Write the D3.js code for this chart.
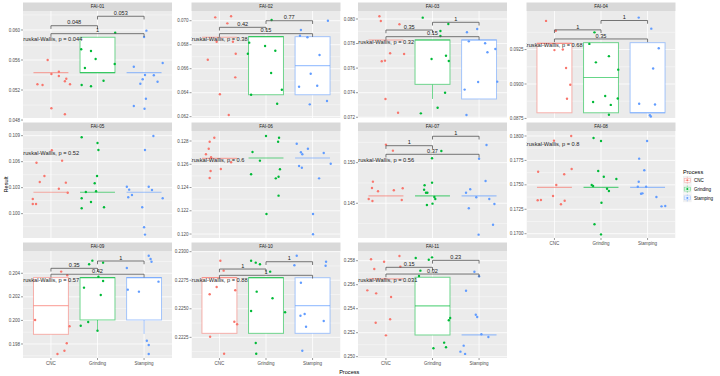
<!DOCTYPE html>
<html>
<head>
<meta charset="utf-8">
<script src="https://cdn.jsdelivr.net/npm/d3@7"></script>
<style>
  body { margin: 0; background: #fff; }
  text { font-family: "Liberation Sans", Arial, sans-serif; }
</style>
</head>
<body>
<div id="chart"></div>
<script>
// facets and groups
var facets = ["FAI-01", "FAI-02", "FAI-03", "FAI-04", "FAI-05", "FAI-06", "FAI-07", "FAI-08", "FAI-09", "FAI-10", "FAI-11"];
var processes = ["CNC", "Grinding", "Stamping"];

// y axis tick labels per facet
var tickLabels = [
    ["0.048", "0.052", "0.056", "0.060"],
    ["0.062", "0.064", "0.066", "0.068", "0.070"],
    ["0.072", "0.074", "0.076", "0.078", "0.080"],
    ["0.0875", "0.0900", "0.0925"],
    ["0.100", "0.103", "0.106", "0.109"],
    ["0.120", "0.122", "0.124", "0.126", "0.128"],
    ["0.145", "0.150"],
    ["0.1700", "0.1725", "0.1750", "0.1775", "0.1800"],
    ["0.198", "0.200", "0.202", "0.204"],
    ["0.2225", "0.2250", "0.2275", "0.2300"],
    ["0.250", "0.252", "0.254", "0.256", "0.258"]
];

// visible y range per facet [low, high]
var yRange = [
    [0.04827, 0.06253], [0.06189, 0.07081], [0.07194, 0.08065], [0.08753, 0.0953],
    [0.09719, 0.10954], [0.11966, 0.12886], [0.14072, 0.1539], [0.16956, 0.18051],
    [0.19681, 0.20589], [0.22069, 0.23006], [0.24989, 0.25881]
];

// measured results, one list per facet
var cncResult = [
    [0.0560, 0.05413, 0.05444, 0.05387, 0.05351, 0.05316, 0.05276, 0.05276, 0.05267, 0.04956, 0.04876],
    [0.07028, 0.07037, 0.06978, 0.06825, 0.06825, 0.06725, 0.06675, 0.06528, 0.06387, 0.06214],
    [0.08022, 0.07984, 0.07957, 0.07721, 0.07715, 0.07656, 0.07661, 0.07349, 0.07237],
    [0.09458, 0.09387, 0.09246, 0.0925, 0.09116, 0.08994, 0.08893, 0.08735, 0.08684],
    [0.10588, 0.10732, 0.10612, 0.10435, 0.10366, 0.10358, 0.10288, 0.10242, 0.1017, 0.10112, 0.10112],
    [0.12828, 0.12794, 0.12734, 0.12686, 0.1266, 0.12559, 0.12542, 0.12482, 0.12617],
    [0.15222, 0.15148, 0.14766, 0.14688, 0.14648, 0.1466, 0.14685, 0.14553, 0.14528, 0.1454],
    [0.18, 0.17952, 0.17662, 0.17634, 0.17608, 0.17498, 0.17386, 0.17342, 0.17345, 0.17337, 0.17301],
    [0.20414, 0.20383, 0.20004, 0.1995, 0.19806, 0.19743, 0.19715],
    [0.22921, 0.22834, 0.22691, 0.22627, 0.22662, 0.22387, 0.22364, 0.22255, 0.22106],
    [0.25812, 0.25792, 0.25839, 0.25731, 0.2575, 0.25553, 0.25528, 0.25498, 0.25312, 0.25283, 0.25178]
];
var grindingResult = [
    [0.05964, 0.05743, 0.0572, 0.05613, 0.05493, 0.05547, 0.05324, 0.05267, 0.0525],
    [0.07006, 0.06817, 0.06789, 0.0675, 0.06725, 0.06564, 0.06425, 0.06383, 0.06308],
    [0.08011, 0.07959, 0.07902, 0.07862, 0.07674, 0.07701, 0.07658, 0.074, 0.07278, 0.07232],
    [0.09375, 0.09291, 0.09202, 0.09157, 0.09104, 0.08913, 0.08895, 0.08869, 0.08848, 0.08777],
    [0.10882, 0.10816, 0.10735, 0.10435, 0.10351, 0.10258, 0.1025, 0.10178, 0.10135, 0.10062, 0.10074],
    [0.12843, 0.12828, 0.12794, 0.12705, 0.12631, 0.12557, 0.12514, 0.12493, 0.12479, 0.1233, 0.12172],
    [0.15144, 0.15054, 0.14754, 0.14722, 0.14667, 0.1463, 0.1463, 0.14577, 0.14553, 0.14479, 0.14495],
    [0.1798, 0.17949, 0.17642, 0.17583, 0.1756, 0.17498, 0.17488, 0.1746, 0.17437, 0.17317, 0.17096, 0.16993],
    [0.20507, 0.20476, 0.2049, 0.20371, 0.20335, 0.20278, 0.20216, 0.19955, 0.19987, 0.19913],
    [0.22921, 0.22904, 0.2289, 0.22825, 0.2265, 0.22592, 0.22481, 0.22469, 0.222, 0.22106],
    [0.25823, 0.25808, 0.25828, 0.25717, 0.25673, 0.25323, 0.25304, 0.25117, 0.25079, 0.2507]
];
var stampingResult = [
    [0.05991, 0.05907, 0.05511, 0.0556, 0.05396, 0.054, 0.05343, 0.05284, 0.05311, 0.05084, 0.04987, 0.04951],
    [0.07, 0.06923, 0.06875, 0.06862, 0.06714, 0.06558, 0.0645, 0.06458, 0.06303, 0.06331],
    [0.07919, 0.07892, 0.07818, 0.07802, 0.07756, 0.07729, 0.07487, 0.0749, 0.07425, 0.07219],
    [0.09482, 0.09402, 0.09259, 0.09112, 0.08857, 0.08851, 0.08773, 0.08764, 0.08657, 0.08601],
    [0.10897, 0.10735, 0.1031, 0.10277, 0.1031, 0.10273, 0.10216, 0.10189, 0.10178, 0.10074, 0.09843, 0.09758],
    [0.12777, 0.12734, 0.12703, 0.12686, 0.12697, 0.12605, 0.12585, 0.1257, 0.12479, 0.12172, 0.11998],
    [0.15218, 0.15049, 0.14775, 0.14672, 0.1463, 0.14574, 0.14553, 0.14491, 0.14438, 0.14236, 0.14113],
    [0.17949, 0.17768, 0.17649, 0.17532, 0.17481, 0.17481, 0.17409, 0.17413, 0.17375, 0.1728, 0.17283],
    [0.20549, 0.20521, 0.20498, 0.20445, 0.20329, 0.20261, 0.20244, 0.19828, 0.19791, 0.19715],
    [0.22965, 0.22881, 0.22912, 0.22877, 0.22728, 0.22439, 0.22454, 0.22393, 0.22343, 0.22133],
    [0.25708, 0.2567, 0.2555, 0.2535, 0.25331, 0.25187, 0.25164, 0.25092, 0.25042, 0.25023]
];

// horizontal jitter of each point (in category units), same order as above
var cncJitter = [
    [-0.07, 0.01, 0.17, 0.17, 0.33, 0.30, 0.41, -0.29, -0.18, 0.01, 0.30],
    [-0.09, 0.25, 0.17, -0.06, 0.29, 0.35, -0.25, 0.34, 0.01, 0.20],
    [-0.14, -0.11, 0.29, 0.09, 0.39, -0.09, -0.02, -0.01, 0.26],
    [-0.18, 0.03, 0, 0.18, 0.25, 0.34, 0.27, 0.02, 0.21],
    [-0.31, 0.02, 0.24, -0.14, -0.24, 0.32, 0.17, 0.36, -0.39, -0.39, -0.32],
    [-0.11, -0.21, -0.23, -0.29, -0.18, 0.03, -0.19, -0.21, 0.25],
    [0, 0.15, -0.28, -0.3, -0.17, 0.17, 0.36, -0.37, -0.29, 0.34],
    [0.36, -0.01, 0.37, -0.35, 0.21, 0.04, -0.03, -0.36, -0.29, 0.22, 0.14],
    [0.22, 0.35, -0.34, 0.4, 0.34, 0.29, 0.14],
    [0.02, 0.09, -0.06, -0.21, 0.34, 0.32, 0.38, -0.2, 0.1],
    [-0.32, -0.04, 0.29, -0.25, 0.31, -0.4, -0.21, 0.11, 0.09, -0.22, 0]
];
var grindingJitter = [
    [0.38, -0.35, -0.14, -0.04, -0.27, 0.37, 0.13, -0.34, -0.14],
    [0.12, -0.36, -0.02, 0.20, -0.39, 0.11, 0.34, -0.32, 0.24],
    [-0.21, 0.34, 0.17, 0.17, -0.02, 0.29, 0.35, 0.27, 0.11, -0.25],
    [-0.14, -0.25, 0.17, -0.11, 0.37, 0.09, 0.36, -0.17, 0.21, 0.17],
    [-0.34, 0, 0.02, -0.01, -0.06, -0.03, -0.25, -0.34, -0.14, -0.34, 0.14],
    [0, 0.28, 0.26, -0.29, -0.13, 0.3, -0.32, 0.27, 0.21, 0.27, 0.01],
    [0.19, -0.01, -0.01, -0.17, -0.18, -0.14, -0.11, 0.04, 0.06, -0.12, 0],
    [-0.16, 0, -0.06, 0.06, 0.33, -0.2, -0.17, 0.13, 0.17, 0.01, -0.14, 0],
    [-0.11, -0.18, 0.12, 0.02, 0.12, -0.29, 0.07, -0.36, -0.2, 0],
    [-0.32, -0.22, -0.13, 0.09, -0.2, 0.14, -0.32, 0.41, -0.22, -0.21],
    [-0.36, -0.08, -0.01, -0.26, -0.29, 0.38, 0.35, 0.25, 0.29, 0.02]
];
var stampingJitter = [
    [0.05, 0, -0.22, 0.40, 0.21, 0.02, -0.03, -0.08, 0.29, 0.04, -0.22, 0.01],
    [0.33, -0.25, -0.27, -0.11, 0.15, -0.04, -0.29, 0.10, -0.06, 0.31],
    [-0.04, -0.26, -0.22, 0.13, 0.35, 0.18, -0.02, 0.39, -0.31, -0.27],
    [-0.19, 0.08, 0.24, 0.12, -0.18, 0.16, 0.05, 0.07, -0.24, -0.17],
    [0.2, 0.02, -0.37, -0.32, 0.1, 0.17, -0.26, -0.34, 0.40, -0.04, 0, 0.02],
    [-0.34, -0.1, -0.25, -0.22, 0.24, 0.39, -0.29, -0.23, 0.14, 0.01, 0.01],
    [0.16, 0, 0.14, -0.19, -0.28, -0.06, 0.22, 0.33, -0.22, 0.30, -0.01],
    [-0.01, -0.18, -0.07, -0.19, -0.21, -0.03, -0.14, -0.11, 0.19, 0.3, 0.38],
    [0.1, 0.14, 0.16, -0.37, 0.31, -0.35, -0.11, 0.06, 0.1, 0.1],
    [-0.34, -0.39, 0.29, 0.28, -0.25, -0.26, -0.17, 0.24, -0.14, -0.22],
    [-0.1, 0, -0.28, -0.07, -0.04, 0.05, 0.2, -0.33, -0.4, -0.3]
];

// boxplot stats per facet: [CNC, Grinding, Stamping]
var boxLower = [
    [0.05431, 0.05431, 0.05431], [0.06862, 0.06383, 0.06383], [0.07829, 0.07468, 0.07349],
    [0.08791, 0.08791, 0.08791], [0.10247, 0.10247, 0.10247], [0.12651, 0.12654, 0.12654],
    [0.1459, 0.1459, 0.1459], [0.17475, 0.17475, 0.17475], [0.19882, 0.20004, 0.20004],
    [0.22285, 0.22285, 0.22285], [0.25648, 0.25181, 0.25181]
];
var boxMiddle = [
    [0.05431, 0.05431, 0.05431], [0.06862, 0.06867, 0.06625], [0.07829, 0.07829, 0.07829],
    [0.09295, 0.09047, 0.08791], [0.10247, 0.10247, 0.10247], [0.12651, 0.12654, 0.12654],
    [0.1459, 0.1459, 0.1459], [0.17475, 0.17475, 0.17475], [0.20125, 0.20363, 0.20363],
    [0.22772, 0.22772, 0.22527], [0.25648, 0.25423, 0.25181]
];
var boxUpper = [
    [0.05431, 0.05903, 0.05431], [0.06862, 0.06867, 0.06867], [0.07829, 0.07829, 0.07829],
    [0.09295, 0.093, 0.093], [0.10247, 0.10247, 0.10247], [0.12651, 0.12654, 0.12654],
    [0.1459, 0.1459, 0.1459], [0.17475, 0.17475, 0.17475], [0.20363, 0.20363, 0.20363],
    [0.22772, 0.22772, 0.22772], [0.25648, 0.25662, 0.25181]
];
var whiskerLower = [
    [null, null, null], [null, null, null], [null, 0.07349, null], [null, null, null],
    [null, null, null], [null, null, null], [null, null, null], [null, null, null],
    [null, 0.19904, 0.19885], [null, null, null], [null, null, null]
];

// pairwise comparisons: CNC-Grinding, Grinding-Stamping, CNC-Stamping
var pairs = [[0, 1], [1, 2], [0, 2]];
var pairP = [
    ["0.048", "0.053", "1"], ["0.42", "0.77", "0.15"], ["0.35", "1", "0.15"], ["1", "1", "0.35"],
    null, null, ["1", "1", "0.37"], null,
    ["0.35", "1", "0.42"], ["1", "1", "1"], ["0.15", "0.23", "0.02"]
];
var pairY = [
    [0.06057, 0.06183, 0.05951], [0.06945, 0.0700, 0.06892], [0.0791, 0.07973, 0.07856], [0.09393, 0.09461, 0.09327],
    null, null, [0.15209, 0.15325, 0.15103], null,
    [0.20442, 0.20504, 0.20392], [0.22848, 0.22912, 0.22793], [0.25745, 0.25803, 0.25689]
];

// Kruskal-Wallis results
var kwP = ["0.044", "0.38", "0.32", "0.68", "0.52", "0.6", "0.56", "0.8", "0.57", "0.88", "0.031"];
var kwY = [0.0588, 0.06848, 0.0781, 0.09286, 0.10704, 0.12637, 0.15033, 0.17921, 0.20346, 0.22755, 0.25639];

var colors = ["#F8766D", "#00BA38", "#619CFF"];
var results = [cncResult, grindingResult, stampingResult];
var jitters = [cncJitter, grindingJitter, stampingJitter];

var width = 720, height = 376;
var colLeft = [23, 191.5, 358, 526.5];
var rowTop = [11, 131, 251];
var panelW = 149, panelH = 107, stripH = 8.5;

var svg = d3.select("#chart").append("svg")
    .attr("width", width)
    .attr("height", height);

var defs = svg.append("defs");

facets.forEach(function(name, i) {
    var col = i % 4, row = Math.floor(i / 4);
    var left = colLeft[col], top = rowTop[row];

    var x = d3.scalePoint().domain(processes).range([left, left + panelW]).padding(0.6);
    var step = x.step();
    var y = d3.scaleLinear().domain(yRange[i]).range([top + panelH, top]);

    var ticks = tickLabels[i].map(Number);
    var tickStep = ticks[1] - ticks[0];
    var minor = [];
    for (var k = -1; k < ticks.length; k++) {
        var m = ticks[0] + (k + 0.5) * tickStep;
        if (m > yRange[i][0] && m < yRange[i][1]) minor.push(m);
    }

    // strip
    svg.append("rect")
        .attr("x", left).attr("y", top - stripH)
        .attr("width", panelW).attr("height", stripH)
        .attr("fill", "#D9D9D9");
    svg.append("text")
        .attr("x", left + panelW / 2).attr("y", top - stripH / 2 + 1.6)
        .attr("text-anchor", "middle")
        .attr("font-size", 4.6)
        .attr("fill", "#1A1A1A")
        .text(name);

    defs.append("clipPath").attr("id", "clip" + i)
        .append("rect")
        .attr("x", left).attr("y", top)
        .attr("width", panelW).attr("height", panelH);

    var g = svg.append("g").attr("clip-path", "url(#clip" + i + ")");

    g.append("rect")
        .attr("x", left).attr("y", top)
        .attr("width", panelW).attr("height", panelH)
        .attr("fill", "#EBEBEB");

    // grid
    g.selectAll("line.minor")
        .data(minor)
        .enter().append("line")
        .attr("x1", left).attr("x2", left + panelW)
        .attr("y1", d => y(d)).attr("y2", d => y(d))
        .attr("stroke", "#fff").attr("stroke-width", 0.4);
    g.selectAll("line.major")
        .data(ticks)
        .enter().append("line")
        .attr("x1", left).attr("x2", left + panelW)
        .attr("y1", d => y(d)).attr("y2", d => y(d))
        .attr("stroke", "#fff").attr("stroke-width", 0.8);
    g.selectAll("line.vmajor")
        .data(processes)
        .enter().append("line")
        .attr("x1", d => x(d)).attr("x2", d => x(d))
        .attr("y1", top).attr("y2", top + panelH)
        .attr("stroke", "#fff").attr("stroke-width", 0.8);

    // boxes
    processes.forEach(function(p, j) {
        var cx = x(p), half = 0.375 * step;
        var lo = boxLower[i][j], mid = boxMiddle[i][j], hi = boxUpper[i][j];
        var wl = whiskerLower[i][j];
        if (wl !== null) {
            g.append("line")
                .attr("x1", cx).attr("x2", cx)
                .attr("y1", y(lo)).attr("y2", y(wl))
                .attr("stroke", colors[j]).attr("stroke-opacity", 0.55)
                .attr("stroke-width", 1);
        }
        g.append("rect")
            .attr("x", cx - half).attr("y", y(hi))
            .attr("width", 2 * half).attr("height", y(lo) - y(hi))
            .attr("fill", "#fff")
            .attr("stroke", colors[j]).attr("stroke-opacity", 0.55)
            .attr("stroke-width", 1);
        g.append("line")
            .attr("x1", cx - half).attr("x2", cx + half)
            .attr("y1", y(mid)).attr("y2", y(mid))
            .attr("stroke", colors[j]).attr("stroke-opacity", 0.6)
            .attr("stroke-width", 1.2);
    });

    // jittered points
    processes.forEach(function(p, j) {
        var pts = results[j][i].map((v, n) => ({ v: v, jx: jitters[j][i][n] }));
        g.selectAll(null)
            .data(pts)
            .enter().append("circle")
            .attr("cx", d => x(p) + d.jx * step)
            .attr("cy", d => y(d.v))
            .attr("r", 1.2)
            .attr("fill", colors[j]);
    });

    // comparison brackets
    if (pairY[i]) {
        pairs.forEach(function(pr, k) {
            var x1 = x(processes[pr[0]]), x2 = x(processes[pr[1]]);
            var yy = y(pairY[i][k]);
            var tip = 0.03 * panelH;
            g.append("path")
                .attr("d", "M" + x1 + "," + (yy + tip) + "V" + yy + "H" + x2 + "V" + (yy + tip))
                .attr("fill", "none")
                .attr("stroke", "#555")
                .attr("stroke-width", 0.8);
            g.append("text")
                .attr("x", (x1 + x2) / 2).attr("y", yy - 1.3)
                .attr("text-anchor", "middle")
                .attr("font-size", 5.6)
                .attr("fill", "#222")
                .text(pairP[i][k]);
        });
    }

    // Kruskal-Wallis label
    g.append("text")
        .attr("x", left - 3.5).attr("y", y(kwY[i]) + 2)
        .attr("font-size", 5.7)
        .attr("fill", "#222")
        .text("Kruskal-Wallis, p = " + kwP[i]);

    // y axis
    svg.selectAll(null)
        .data(ticks)
        .enter().append("line")
        .attr("x1", left - 2).attr("x2", left)
        .attr("y1", d => y(d)).attr("y2", d => y(d))
        .attr("stroke", "#333").attr("stroke-width", 0.5);
    svg.selectAll(null)
        .data(tickLabels[i])
        .enter().append("text")
        .attr("x", left - 3)
        .attr("y", d => y(+d) + 1.6)
        .attr("text-anchor", "end")
        .attr("font-size", 4.5)
        .attr("fill", "#4D4D4D")
        .text(d => d);

    // x axis on bottom panels
    if (row === 2 || i === 7) {
        var by = top + panelH;
        svg.selectAll(null)
            .data(processes)
            .enter().append("line")
            .attr("x1", d => x(d)).attr("x2", d => x(d))
            .attr("y1", by).attr("y2", by + 2)
            .attr("stroke", "#333").attr("stroke-width", 0.5);
        svg.selectAll(null)
            .data(processes)
            .enter().append("text")
            .attr("x", d => x(d))
            .attr("y", by + 7)
            .attr("text-anchor", "middle")
            .attr("font-size", 4.5)
            .attr("fill", "#4D4D4D")
            .text(d => d);
    }
});

// axis titles
svg.append("text")
    .attr("x", (colLeft[0] + colLeft[3] + panelW) / 2).attr("y", 373.5)
    .attr("text-anchor", "middle")
    .attr("font-size", 5.6)
    .attr("fill", "#000")
    .text("Process");
svg.append("text")
    .attr("transform", "translate(8," + (rowTop[0] + (rowTop[2] + panelH - rowTop[0]) / 2) + ") rotate(-90)")
    .attr("text-anchor", "middle")
    .attr("font-size", 5.6)
    .attr("fill", "#000")
    .text("Result");

// legend
var legend = svg.append("g").attr("transform", "translate(683,170)");
legend.append("text")
    .attr("x", 0).attr("y", 4)
    .attr("font-size", 5.6)
    .attr("fill", "#000")
    .text("Process");
processes.forEach(function(p, j) {
    var ky = 6 + j * 8.8;
    var kg = legend.append("g").attr("transform", "translate(0," + ky + ")");
    kg.append("rect").attr("width", 8.6).attr("height", 8.6).attr("fill", "#F2F2F2");
    kg.append("line")
        .attr("x1", 4.3).attr("x2", 4.3).attr("y1", 0.6).attr("y2", 8)
        .attr("stroke", colors[j]).attr("stroke-opacity", 0.55).attr("stroke-width", 0.6);
    kg.append("rect")
        .attr("x", 1.2).attr("y", 2.4).attr("width", 6.2).attr("height", 3.8)
        .attr("fill", "#fff")
        .attr("stroke", colors[j]).attr("stroke-opacity", 0.55).attr("stroke-width", 0.6);
    kg.append("line")
        .attr("x1", 1.2).attr("x2", 7.4).attr("y1", 4.3).attr("y2", 4.3)
        .attr("stroke", colors[j]).attr("stroke-opacity", 0.55).attr("stroke-width", 0.6);
    kg.append("circle")
        .attr("cx", 4.3).attr("cy", 4.3).attr("r", 1)
        .attr("fill", colors[j]);
    legend.append("text")
        .attr("x", 11).attr("y", ky + 6)
        .attr("font-size", 4.5)
        .attr("fill", "#000")
        .text(p);
});
</script>
</body>
</html>
